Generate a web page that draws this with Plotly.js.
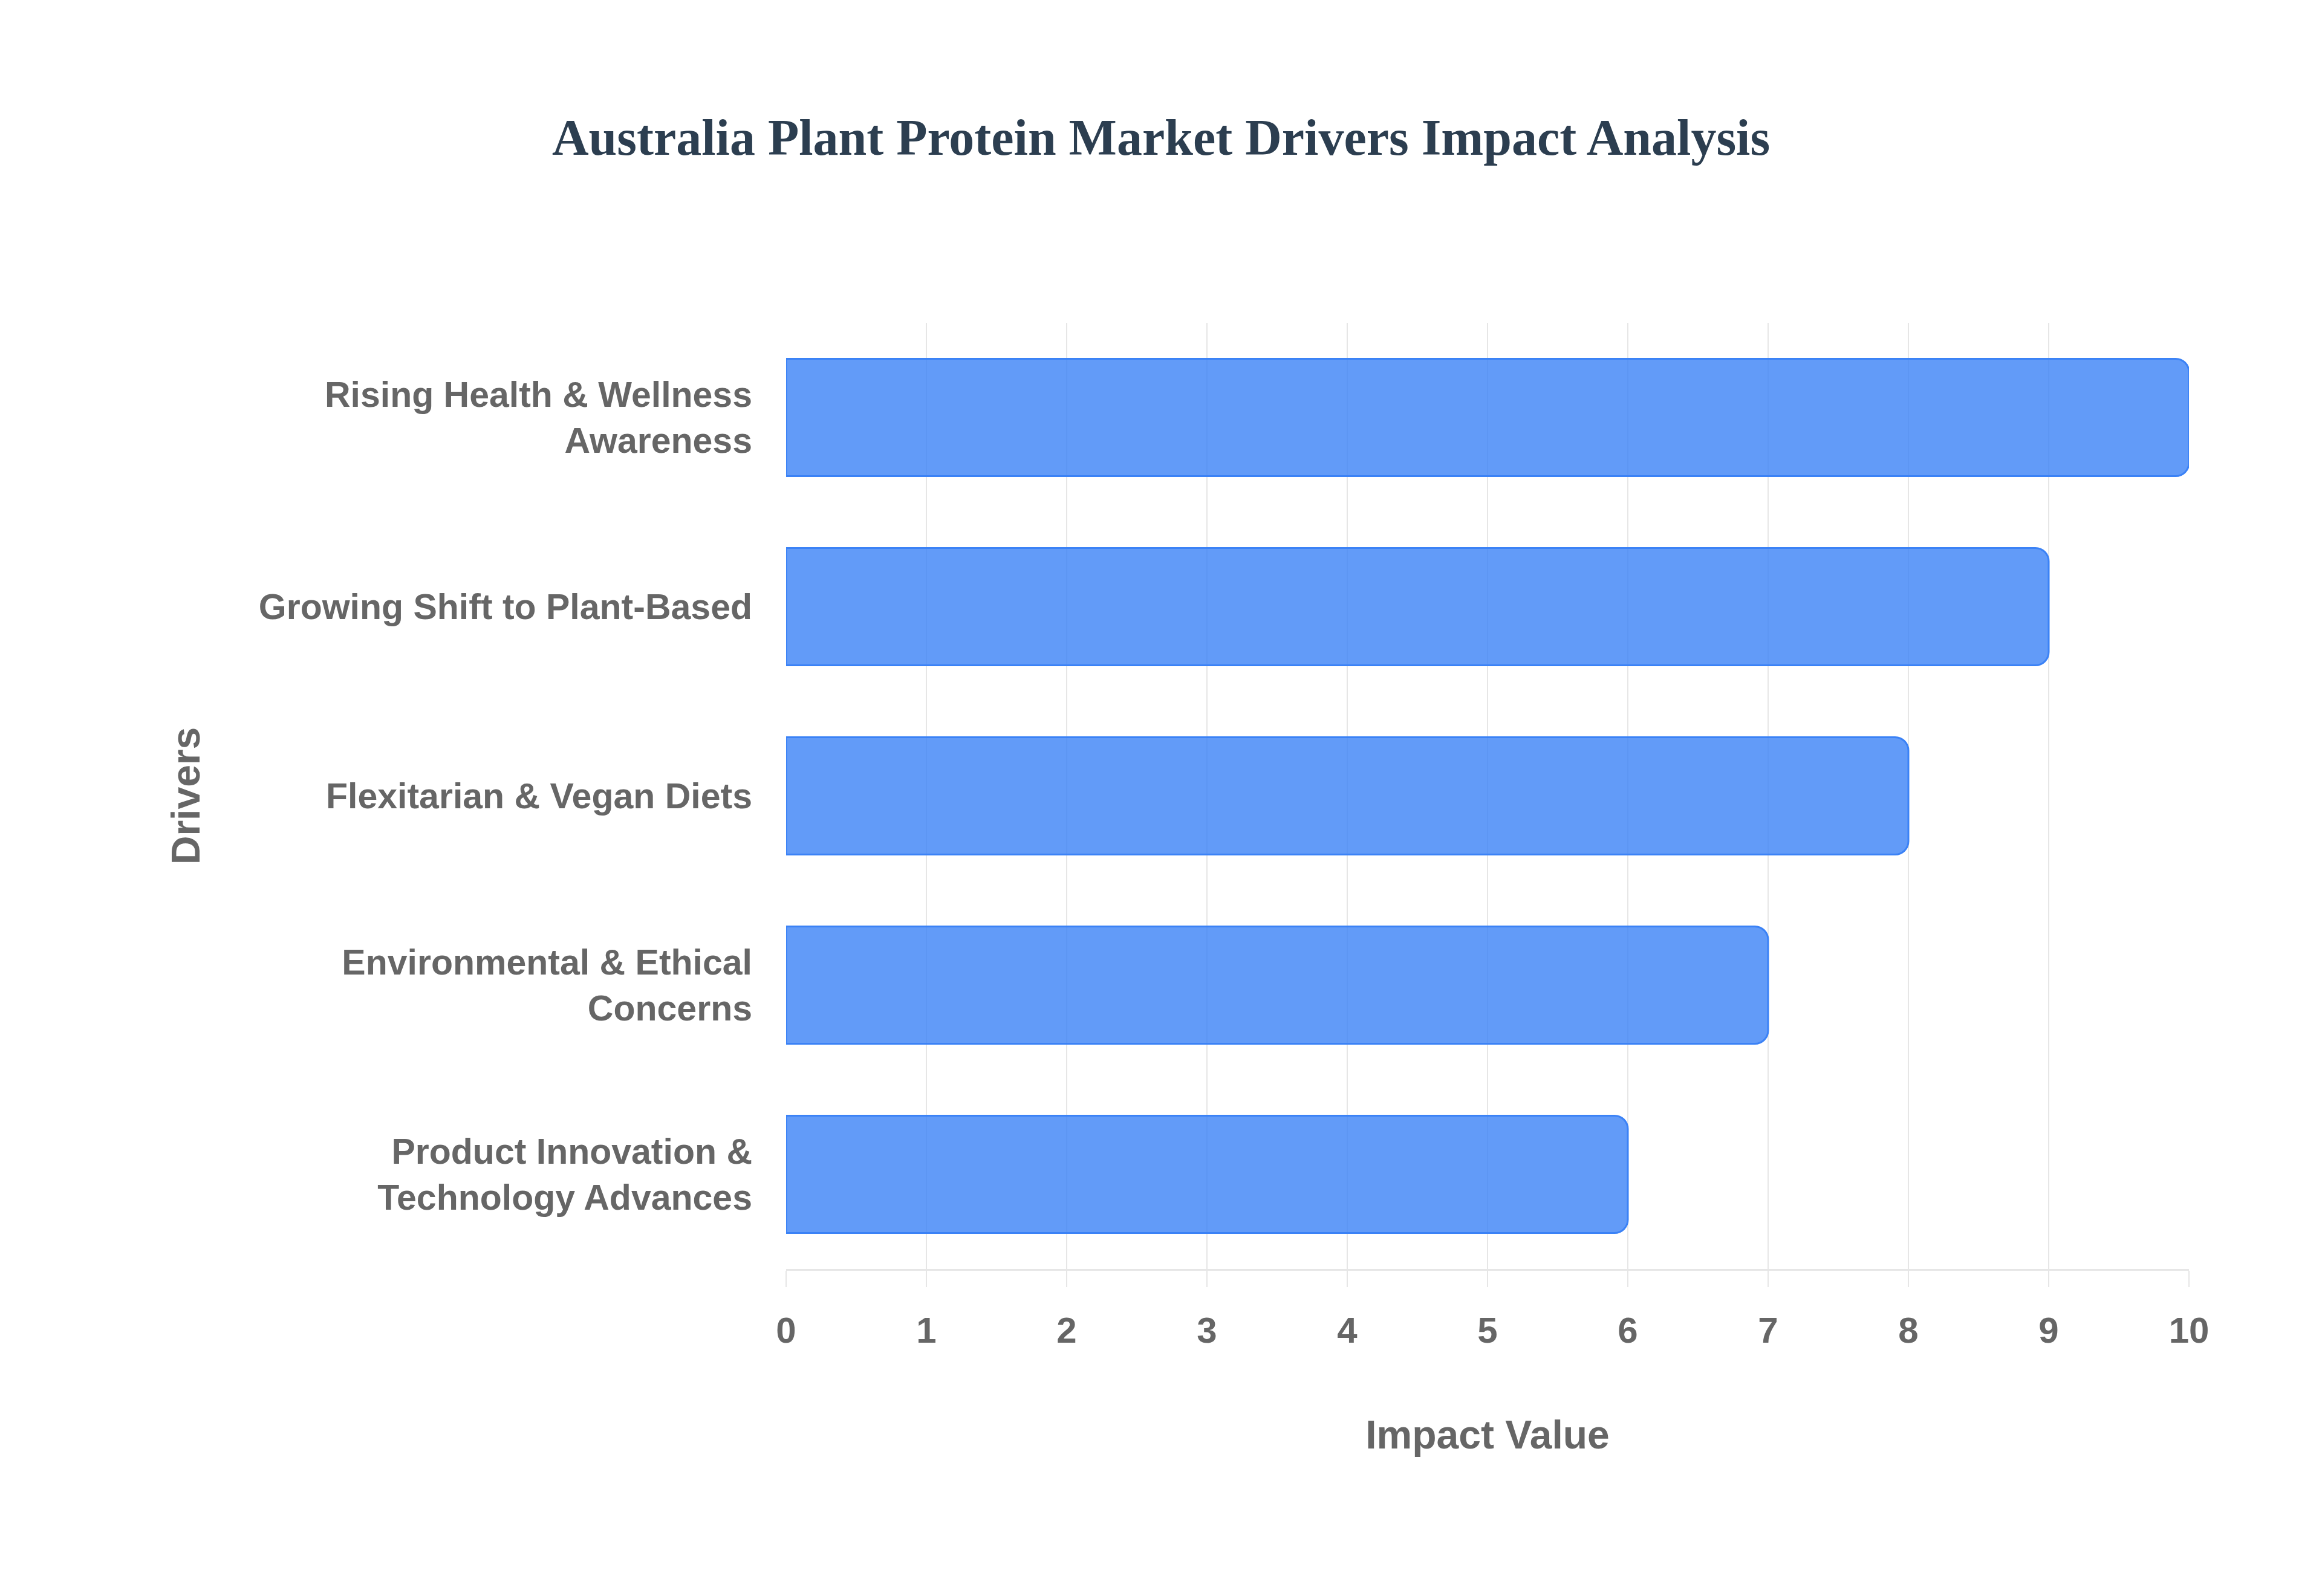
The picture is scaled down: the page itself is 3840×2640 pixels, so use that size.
<!DOCTYPE html>
<html>
<head>
<meta charset="utf-8">
<script src="https://cdn.plot.ly/plotly-3.0.1.min.js"></script>
<style>
  html, body { margin: 0; padding: 0; background: #ffffff; }
  #plot { width: 3840px; height: 2640px; }
</style>
</head>
<body>
<div id="plot"></div>
<script>
// drivers, listed top to bottom as in the chart
let drivers = [
  'Rising Health & Wellness<br>Awareness',
  'Growing Shift to Plant-Based',
  'Flexitarian & Vegan Diets',
  'Environmental & Ethical<br>Concerns',
  'Product Innovation &<br>Technology Advances'
];
let impactValues = [10, 9, 8, 7, 6];
let xTicks = [0, 1, 2, 3, 4, 5, 6, 7, 8, 9, 10];

let labelFont = 'Liberation Sans, Arial, sans-serif';
let gridColor = '#e6e6e6';

let data = [{
  type: 'bar',
  orientation: 'h',
  x: impactValues,
  y: drivers,
  marker: {
    color: 'rgba(59, 130, 246, 0.8)',
    cornerradius: 22,
    line: { color: '#3b82f6', width: 3 }
  },
  hoverinfo: 'x+y'
}];

let layout = {
  width: 3840,
  height: 2640,
  paper_bgcolor: '#ffffff',
  plot_bgcolor: '#ffffff',
  showlegend: false,
  bargap: 0.38,
  margin: { l: 1300, r: 220, t: 534, b: 541 },
  title: {
    text: 'Australia Plant Protein Market Drivers Impact Analysis',
    x: 0.5,
    xanchor: 'center',
    y: 0.914,
    yanchor: 'middle',
    font: { family: 'Liberation Serif, Times New Roman, serif', size: 84, color: '#2c3e50', weight: 'bold' }
  },
  xaxis: {
    range: [0, 10],
    tickvals: xTicks,
    showgrid: true,
    gridcolor: gridColor,
    gridwidth: 2,
    zeroline: false,
    showline: true,
    linecolor: gridColor,
    linewidth: 3,
    ticks: 'outside',
    ticklen: 27,
    tickwidth: 2,
    tickcolor: gridColor,
    ticklabelstandoff: 20,
    tickfont: { family: labelFont, size: 60, color: '#666666', weight: 'bold' },
    title: {
      text: 'Impact Value',
      standoff: 117,
      font: { family: labelFont, size: 66, color: '#666666', weight: 'bold' }
    }
  },
  yaxis: {
    autorange: 'reversed',
    showgrid: false,
    zeroline: false,
    showline: false,
    ticks: '',
    ticklabelstandoff: 55,
    tickfont: { family: labelFont, size: 59, color: '#666666', weight: 'bold' },
    title: {
      text: 'Drivers',
      standoff: 75,
      font: { family: labelFont, size: 66, color: '#666666', weight: 'bold' }
    }
  }
};

Plotly.newPlot('plot', data, layout, { staticPlot: true });
</script>
</body>
</html>
